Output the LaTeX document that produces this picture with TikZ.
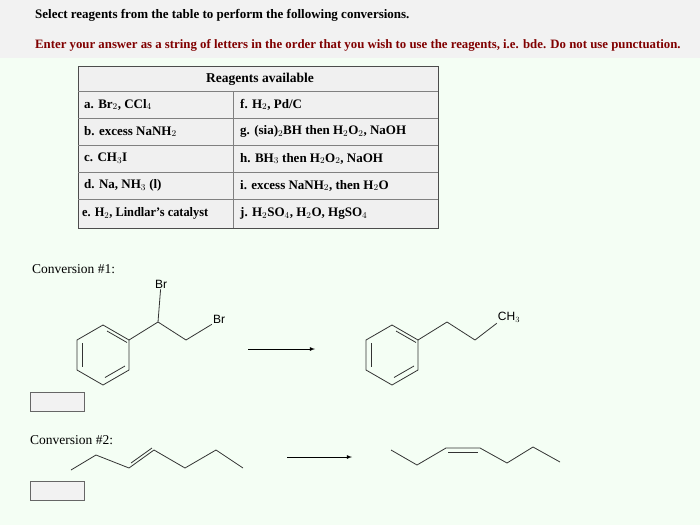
\documentclass[tikz,border=0pt]{standalone}
\usepackage{fontspec}
\setmainfont{Liberation Serif}
\newfontfamily\chemf{Liberation Sans}
\begin{document}
\begin{tikzpicture}[x=1pt,y=-1pt,
  bond/.style={line width=0.8pt,black!80},
  lbl/.style={font=\chemf\fontsize{12}{14}\selectfont,inner sep=1pt},
  cell/.style={anchor=west,font=\bfseries\fontsize{13}{15}\selectfont,inner sep=0pt},
  ansbox/.style={draw=black!60,fill=white!90!gray,line width=0.6pt},
  rx/.style={-latex,line width=0.8pt}]
\useasboundingbox (0,0) rectangle (700,525);
\fill[gray!22!green!5!white] (0,0) rectangle (700,525);
\fill[white!90!gray] (0,0) rectangle (700,58);
\node[anchor=west,font=\bfseries\fontsize{13}{15}\selectfont,inner sep=0] (t1) at (35,15) {Select reagents from the table to perform the following conversions.};
\node[anchor=west,font=\bfseries\fontsize{12.8}{15}\selectfont,text=red!50!black,inner sep=0] (t2) at (35,45) {Enter your answer as a string of letters in the order that you wish to use the reagents, i.e. bde. Do not use punctuation.};
% table
\fill[white!88!gray] (78,66) rectangle (438,228);
\draw[line width=0.8pt,black!70] (78,66) rectangle (438,228);
\foreach \y in {91,118,145,172,199} \draw[black!50,line width=0.6pt] (78,\y) -- (438,\y);
\draw[black!50,line width=0.6pt] (233,91) -- (233,228);
\node[font=\bfseries\fontsize{13.5}{15}\selectfont] (hd) at (260,79) {Reagents available};
\node[cell] (ra) at (84,104.5) {a. Br$_2$, CCl$_4$};
\node[cell] (rb) at (84,131.5) {b. excess NaNH$_2$};
\node[cell] (rc) at (84,158.5) {c. CH$_3$I};
\node[cell] (rd) at (84,185.5) {d. Na, NH$_3$ (l)};
\node[cell,xscale=0.95] (re) at (82,213.5) {e. H$_2$, Lindlar's catalyst};
\node[cell] (rf) at (240,104.5) {f. H$_2$, Pd/C};
\node[cell] (rg) at (240,131.5) {g. (sia)$_2$BH then H$_2$O$_2$, NaOH};
\node[cell] (rh) at (240,158.5) {h. BH$_3$ then H$_2$O$_2$, NaOH};
\node[cell] (ri) at (240,185.5) {i. excess NaNH$_2$, then H$_2$O};
\node[cell] (rj) at (240,213.5) {j. H$_2$SO$_4$, H$_2$O, HgSO$_4$};
% conversion 1
\node[anchor=west,font=\fontsize{13.5}{15}\selectfont,inner sep=0] (c1) at (32,269) {Conversion \#1:};
\foreach \cx/\nm in {103/A,392/B}{
  \draw[bond] (\cx,325) -- ++(26,15) -- ++(0,30) -- ++(-26,15) -- ++(-26,-15) -- ++(0,-30) -- cycle;
  \draw[bond] (\cx+4,331) -- ++(20,11.5);
  \draw[bond] (\cx+22,366) -- ++(-20,11.5);
  \draw[bond] (\cx-21,343) -- ++(0,24);
}
\node[lbl] (br1) at (161,284) {Br};
\node[lbl] (br2) at (219,319) {Br};
\draw[bond] (129,340) -- (158,322) -- (br1);
\draw[bond] (158,322) -- (186,340) -- (br2.south west);
\node[lbl] (ch3) at (509,317) {CH$_3$};
\draw[bond] (418,340) -- (447,322) -- (475,340) -- (ch3.south west);
\coordinate (a1s) at (248,349); \coordinate (a1e) at (315,349);
\draw[rx] (a1s) -- (a1e);
\draw[ansbox] (30,392) rectangle (84,411);
% conversion 2
\node[anchor=west,font=\fontsize{13.5}{15}\selectfont,inner sep=0] (c2) at (30,440) {Conversion \#2:};
\draw[bond] (71,470) -- (96,455) -- (129,468) -- (154,450) -- (185,468) -- (216,450) -- (243,468);
\draw[bond] (131,463) -- (152,448);
\draw[bond] (391,450) -- (417,465) -- (446,448) -- (480,448) -- (507,463) -- (533,447) -- (560,462);
\draw[bond] (448,452) -- (478,452);
\coordinate (a2s) at (287,457); \coordinate (a2e) at (352,457);
\draw[rx] (a2s) -- (a2e);
\draw[ansbox] (30,481) rectangle (84,500);
\end{tikzpicture}
\end{document}
